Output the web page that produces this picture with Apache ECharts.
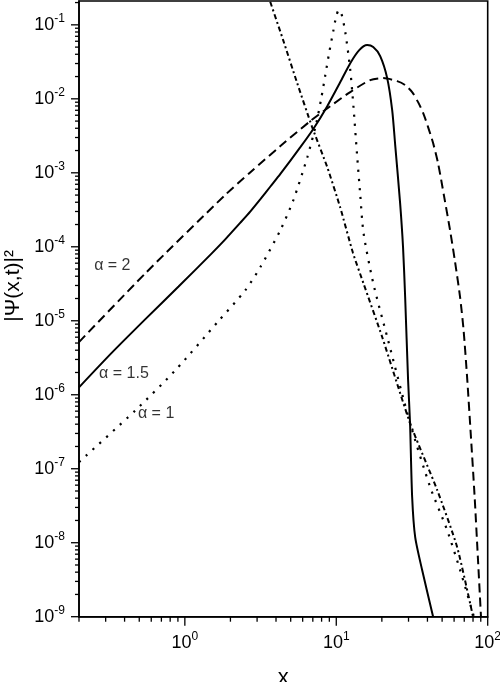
<!DOCTYPE html>
<html><head><meta charset="utf-8">
<script src="https://cdn.jsdelivr.net/npm/echarts@6/dist/echarts.min.js"></script>
<style>html,body{margin:0;padding:0;background:#fff}#c{width:500px;height:682px}</style>
</head><body><div id="c"></div>
<script>
// ---- data (log-log) ----
const xA2 = [0.2, 0.551, 1.844, 2.711, 4.275, 6.74, 9.13, 12.37, 16.75, 20.4, 25.24, 28.5, 31.7, 34.7, 37.5, 40.4, 43.6, 47.0, 51.5, 56.4, 60.9, 65.7, 69.3, 73.1, 77.0, 81.85, 86.3, 90.3];
const yA2 = [5.15e-6, 4.42e-5, 5.0e-4, 1.02e-3, 2.30e-3, 5.0e-3, 7.96e-3, 0.01233, 0.0179, 0.01905, 0.01734, 0.01535, 0.01233, 9.02e-3, 6.41e-3, 4.15e-3, 2.52e-3, 1.35e-3, 4.84e-4, 1.68e-4, 6.21e-5, 2.09e-5, 7.48e-6, 1.73e-6, 3.33e-7, 4.42e-8, 5.83e-9, 1e-9];

const xA15 = [0.2, 0.3287, 0.551, 0.909, 1.50, 1.855, 2.328, 2.711, 3.155, 3.673, 4.275, 5.79, 7.05, 8.72, 10.63, 12.37, 14.18, 16.0, 17.54, 19.5, 21.69, 23.4, 24.5, 26.4, 27.6, 28.5, 29.8, 30.7, 31.7, 33.2, 36.9, 43.6];
const yA15 = [1.26e-6, 3.68e-6, 1.06e-5, 2.90e-5, 8.09e-5, 1.27e-4, 2.12e-4, 3.01e-4, 4.40e-4, 6.53e-4, 9.68e-4, 2.22e-3, 3.91e-3, 7.96e-3, 0.01683, 0.0303, 0.0455, 0.0532, 0.050, 0.0378, 0.01905, 7.03e-3, 2.37e-3, 3.90e-4, 9.9e-5, 2.09e-5, 1.58e-6, 4.15e-7, 4.15e-8, 1.19e-8, 4.28e-9, 1e-9];

const xA1 = [0.2, 0.4738, 0.8684, 1.668, 2.512, 3.155, 4.275, 5.207, 6.44, 7.383, 7.963, 8.463, 8.992, 9.555, 10.0, 10.39, 10.79, 11.47, 12.37, 13.01, 13.69, 14.40, 15.14, 17.54, 21.7, 30.7, 41.7, 53.9, 65.7, 81.1];
const yA1 = [1.23e-7, 6.21e-7, 2.16e-6, 9.9e-6, 2.60e-5, 5.32e-5, 1.68e-4, 4.28e-4, 1.63e-3, 4.70e-3, 0.01021, 0.02089, 0.04276, 0.08222, 0.1312, 0.1582, 0.1438, 0.0796, 0.02443, 7.48e-3, 1.845e-3, 5.0e-4, 1.53e-4, 3.23e-5, 6.03e-6, 4.15e-7, 5.66e-8, 1.49e-8, 4.28e-9, 1e-9];

const xRef = [3.44, 4.46, 5.52, 6.93, 8.72, 10.6, 12.9, 15.1, 20.1, 30.7, 46.4, 62.8, 80];
const yRef = [0.3, 0.0621, 0.0163, 4.15e-3, 1.19e-3, 3.44e-4, 8.22e-5, 3.23e-5, 6.03e-6, 4.15e-7, 5.15e-8, 8.75e-9, 1e-9];

const labelTexts = ['α = 2', 'α = 1.5', 'α = 1'];
const labelX = [0.332, 0.396, 0.646];
const labelY = [5.6e-5, 1.92e-6, 5.48e-7];

const xMajorTicks = [1, 10, 100];
const yMajorTicks = [1e-9, 1e-8, 1e-7, 1e-6, 1e-5, 1e-4, 1e-3, 1e-2, 1e-1];
const X_MIN = 0.2, X_MAX = 100, Y_MIN = 1e-9, Y_MAX = 0.21;

const xMinorTicks = [];
for (let n = -1; n <= 1; n++) for (let k = 2; k <= 9; k++) { const v = k * Math.pow(10, n); if (v >= X_MIN - 1e-12) xMinorTicks.push(v); }
const yMinorTicks = [];
for (let n = -9; n <= -1; n++) for (let k = 2; k <= 9; k++) { const v = k * Math.pow(10, n); if (v <= Y_MAX) yMinorTicks.push(v); }

const FONT = "'Liberation Sans', Arial, sans-serif";
const pairs = (xs, ys) => xs.map((x, i) => [x, ys[i]]);

function tickSeries(values, dir, len) {
  return {
    type: 'custom', silent: true, clip: false, z: 5,
    data: values.map(v => dir === 'x' ? [v, Y_MIN] : [X_MIN, v]),
    encode: { x: 0, y: 1 },
    renderItem: (params, api) => {
      const p = api.coord([api.value(0), api.value(1)]);
      const shape = dir === 'x'
        ? { x1: p[0], y1: p[1], x2: p[0], y2: p[1] + len }
        : { x1: p[0] - len, y1: p[1], x2: p[0], y2: p[1] };
      return { type: 'line', shape: shape, style: { stroke: '#000', lineWidth: 1.3 } };
    }
  };
}

function powLabel(v) {
  const e = Math.log10(v), r = Math.round(e);
  if (Math.abs(e - r) > 1e-6) return '';
  return '{b|10}{s|' + r + '}';
}
const rich = {
  b: { fontSize: 18, fontFamily: FONT, color: '#000', lineHeight: 24 },
  s: { fontSize: 12, fontFamily: FONT, color: '#000', verticalAlign: 'top', lineHeight: 13 }
};

const lineBase = { type: 'line', showSymbol: false, symbol: 'none', silent: true, clip: true };

const chart = echarts.init(document.getElementById('c'), null, { renderer: 'canvas' });
chart.setOption({
  animation: false,
  backgroundColor: '#fff',
  grid: { left: 79, right: 12.3, top: 1, bottom: 65.3, show: true, borderColor: '#000', borderWidth: 1.6, outerBoundsMode: 'none', containLabel: false },
  xAxis: {
    type: 'log', logBase: 10, min: X_MIN, max: X_MAX,
    splitLine: { show: false },
    axisLine: { show: true, lineStyle: { color: '#000', width: 1.6 } },
    axisTick: { show: false },
    axisLabel: { formatter: powLabel, rich: rich, fontSize: 18, fontFamily: FONT, margin: 14, color: '#000' },
    name: 'x', nameLocation: 'middle', nameGap: 50,
    nameTextStyle: { fontSize: 22, fontFamily: FONT, color: '#000' }
  },
  yAxis: {
    type: 'log', logBase: 10, min: Y_MIN, max: Y_MAX,
    splitLine: { show: false },
    axisLine: { show: true, lineStyle: { color: '#000', width: 1.6 } },
    axisTick: { show: false },
    axisLabel: { formatter: powLabel, rich: rich, fontSize: 18, fontFamily: FONT, margin: 14, color: '#000' },
    name: '|Ψ(x,t)|²', nameLocation: 'middle', nameGap: 47, nameRotate: 90,
    nameTextStyle: { fontSize: 21, fontFamily: FONT, color: '#000', padding: [0, 0, 0, 46] }
  },
  series: [
    Object.assign({}, lineBase, { name: 'α = 2', data: pairs(xA2, yA2), smooth: 0.25,
      lineStyle: { color: '#000', width: 2, type: [9, 5] } }),
    Object.assign({}, lineBase, { name: 'α = 1.5', data: pairs(xA15, yA15), smooth: 0.25,
      lineStyle: { color: '#000', width: 2, type: 'solid' } }),
    Object.assign({}, lineBase, { name: 'α = 1', data: pairs(xA1, yA1), smooth: 0.25,
      lineStyle: { color: '#000', width: 2.2, type: [2.2, 7] } }),
    Object.assign({}, lineBase, { name: 'ref', data: pairs(xRef, yRef), smooth: 0.2,
      lineStyle: { color: '#000', width: 2, type: [5, 3, 2, 3] } }),
    {
      type: 'scatter', silent: true, symbolSize: 0,
      data: labelTexts.map((t, i) => [labelX[i], labelY[i], t]),
      label: { show: true, position: 'inside', formatter: p => p.data[2], fontSize: 16, fontFamily: FONT, color: '#000' }
    },
    tickSeries(xMajorTicks, 'x', 9),
    tickSeries(xMinorTicks, 'x', 5),
    tickSeries(yMajorTicks, 'y', 8),
    tickSeries(yMinorTicks, 'y', 4)
  ]
});
</script></body></html>
